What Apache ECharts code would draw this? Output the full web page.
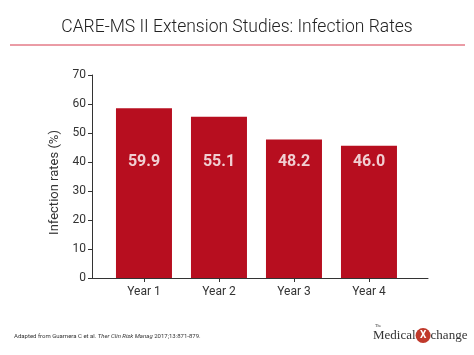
<!DOCTYPE html>
<html><head><meta charset="utf-8">
<script src="https://cdn.jsdelivr.net/npm/echarts@6/dist/echarts.min.js"></script>
<style>html,body{margin:0;padding:0;background:#fff}#c{width:474px;height:355px}</style>
</head><body><div id="c"></div>
<script>
const categories = ['Year 1', 'Year 2', 'Year 3', 'Year 4'];
const barValues = [58.5, 55.6, 47.8, 45.6];
const barLabels = ['59.9', '55.1', '48.2', '46.0'];
const labelLevel = 40;
const yTicks = [0, 10, 20, 30, 40, 50, 60, 70];
const positions = [1, 2, 3, 4];

const chart = echarts.init(document.getElementById('c'), null, {renderer: 'canvas'});
const font = 'Roboto, "Liberation Sans", sans-serif';
const narrow = '"Liberation Sans Narrow", Roboto, sans-serif';
chart.setOption({
  animation: false,
  title: {
    text: 'CARE-MS II Extension Studies: Infection Rates',
    left: 'center', top: 14,
    textStyle: {fontFamily: font, fontWeight: 300, fontSize: 17.5, color: '#222'}
  },
  grid: {left: 92, right: 46, top: 75, bottom: 77},
  xAxis: {
    type: 'value', min: 0.307, max: 4.787,
    splitLine: {show: false},
    axisLine: {show: true, lineStyle: {color: '#333', width: 1}},
    axisTick: {show: true, customValues: positions, length: 4, lineStyle: {color: '#333'}},
    axisLabel: {show: true, customValues: positions, formatter: v => categories[Math.round(v) - 1] || '',
      fontFamily: font, fontSize: 12, color: '#333', margin: 8}
  },
  yAxis: {
    type: 'value', min: 0, max: 70, interval: 10,
    name: 'Infection rates (%)', nameLocation: 'middle', nameGap: 29, nameRotate: 90,
    nameTextStyle: {fontFamily: font, fontSize: 13, color: '#333', padding: [0, 12, 0, 0]},
    splitLine: {show: false},
    axisLine: {show: true, lineStyle: {color: '#333', width: 1}},
    axisTick: {show: true, length: 4, lineStyle: {color: '#333'}},
    axisLabel: {fontFamily: font, fontSize: 12, color: '#333', margin: 6,
      formatter: v => yTicks.includes(v) ? String(v) : ''}
  },
  series: [
    {
      type: 'bar', barWidth: 56,
      data: positions.map((p, i) => [p, barValues[i]]),
      itemStyle: {color: '#b70e1f'}
    },
    {
      type: 'scatter', symbolSize: 0,
      data: positions.map((p, i) => [p, labelLevel]),
      label: {show: true, position: 'inside', formatter: p => barLabels[p.dataIndex],
        color: '#fff', fontFamily: narrow, fontWeight: 'bold', fontSize: 16}
    }
  ],
  graphic: [
    {type: 'line', shape: {x1: 10, y1: 45, x2: 465, y2: 45}, style: {stroke: '#d6394c', lineWidth: 1}},
    {type: 'text', left: 14, top: 333, style: {
      text: '{n|Adapted from Guarnera C et al. }{i|Ther Clin Risk Manag}{n| 2017;13:871-879.}',
      rich: {n: {fontFamily: font, fontSize: 6, fill: '#333'}, i: {fontFamily: font, fontSize: 6, fontStyle: 'italic', fill: '#333'}}
    }},
    {type: 'text', left: 373, top: 328, style: {
      text: '{a|Medical}{x|X}{b|change}',
      rich: {
        a: {fontFamily: '"Liberation Serif", serif', fontSize: 13, fill: '#333'},
        x: {fontFamily: font, fontSize: 10, fontWeight: 'bold', fill: '#fff', backgroundColor: '#c0392b', borderRadius: 8, width: 15, height: 15, align: 'center'},
        b: {fontFamily: '"Liberation Serif", serif', fontSize: 13, fill: '#333'}
      }
    }},
    {type: 'text', left: 375, top: 324, style: {text: 'The', fontFamily: '"Liberation Serif", serif', fontSize: 4, fill: '#333'}}
  ]
});
</script></body></html>
